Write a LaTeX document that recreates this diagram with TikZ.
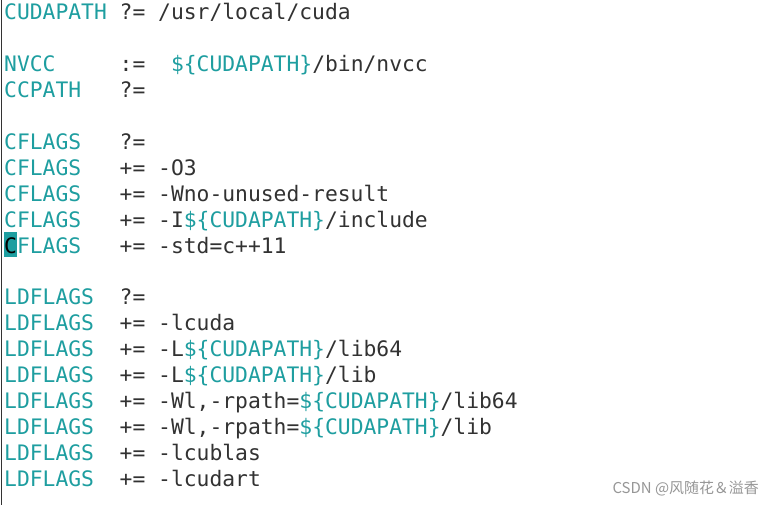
\documentclass[tikz,border=0pt]{standalone}
\usepackage{fontspec}
\newfontfamily\codefont{DejaVu Sans Mono}
\newfontfamily\cjk{Noto Sans CJK SC}
\definecolor{kw}{RGB}{30,158,160}
\definecolor{txt}{RGB}{50,50,50}
\definecolor{wm}{RGB}{150,150,150}
\newcommand{\K}[1]{\textcolor{kw}{#1}}
\begin{document}
\begin{tikzpicture}[x=1bp,y=-1bp,
  codeline/.style={anchor=base west,inner sep=0,font=\codefont\fontsize{21.4}{26}\selectfont,text=txt}]
\useasboundingbox[fill=white] (0,0) rectangle (775,505);
\draw[line width=1.5bp,black!80] (1.5,0) -- (1.5,505);
\fill[kw] (4,232) rectangle (16.5,257);
\def\base{20}
\node[codeline] (l1) at (4,20) {\K{CUDAPATH}~?=~/usr/local/cuda};
\node[codeline] (l3) at (4,71.8) {\K{NVCC}~~~~~:=~~\K{\$\{CUDAPATH\}}/bin/nvcc};
\node[codeline] (l4) at (4,97.7) {\K{CCPATH}~~~?=};
\node[codeline] (l6) at (4,149.5) {\K{CFLAGS}~~~?=};
\node[codeline] (l7) at (4,175.4) {\K{CFLAGS}~~~+=~-O3};
\node[codeline] (l8) at (4,201.3) {\K{CFLAGS}~~~+=~-Wno-unused-result};
\node[codeline] (l9) at (4,227.2) {\K{CFLAGS}~~~+=~-I\K{\$\{CUDAPATH\}}/include};
\node[codeline] (l10) at (4,253.1) {\textcolor{black}{C}\K{FLAGS}~~~+=~-std=c++11};
\node[codeline] (l12) at (4,304.9) {\K{LDFLAGS}~~?=};
\node[codeline] (l13) at (4,330.8) {\K{LDFLAGS}~~+=~-lcuda};
\node[codeline] (l14) at (4,356.7) {\K{LDFLAGS}~~+=~-L\K{\$\{CUDAPATH\}}/lib64};
\node[codeline] (l15) at (4,382.6) {\K{LDFLAGS}~~+=~-L\K{\$\{CUDAPATH\}}/lib};
\node[codeline] (l16) at (4,408.5) {\K{LDFLAGS}~~+=~-Wl,-rpath=\K{\$\{CUDAPATH\}}/lib64};
\node[codeline] (l17) at (4,434.4) {\K{LDFLAGS}~~+=~-Wl,-rpath=\K{\$\{CUDAPATH\}}/lib};
\node[codeline] (l18) at (4,460.3) {\K{LDFLAGS}~~+=~-lcublas};
\node[codeline] (l19) at (4,486.2) {\K{LDFLAGS}~~+=~-lcudart};
\node[anchor=base east,inner sep=0,text=wm,font=\cjk\fontsize{15}{18}\selectfont] (wm) at (759,493) {CSDN @风随花＆溢香};
\end{tikzpicture}
\end{document}
